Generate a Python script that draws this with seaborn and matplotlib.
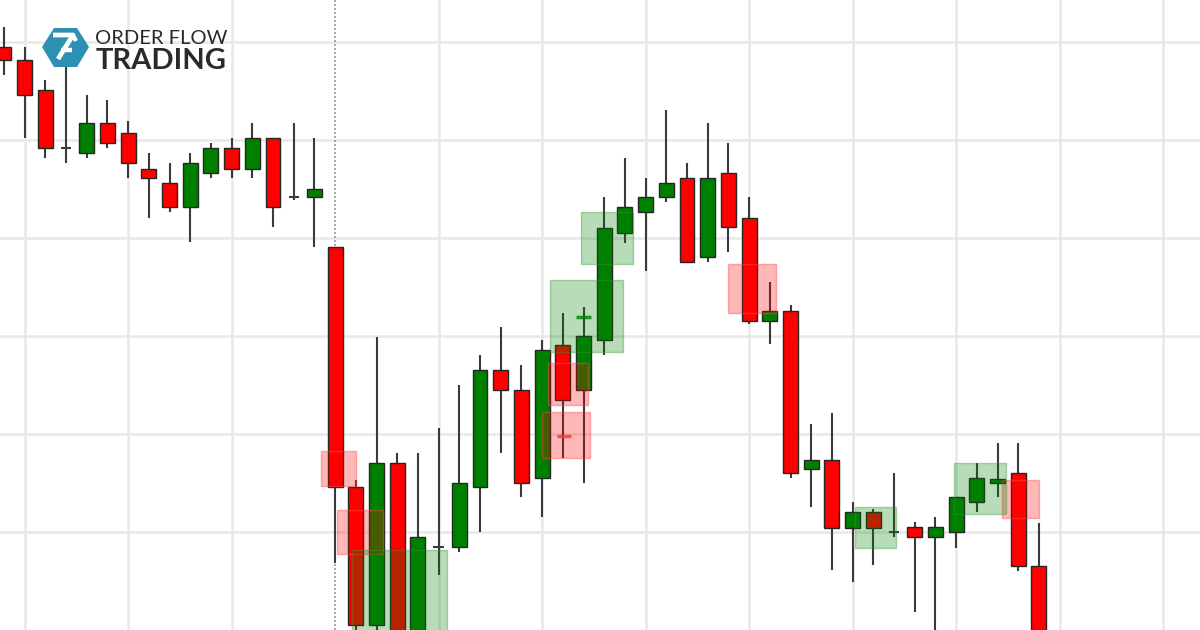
import numpy as np
import pandas as pd
import matplotlib
matplotlib.use("Agg")
import matplotlib.pyplot as plt
from matplotlib.patches import Rectangle, Polygon
import seaborn as sns

# --- candle data (price units, one grid step = 10) ---
opens = [59.5, 58.2, 55.1, 49.2, 48.7, 51.7, 50.7, 47.1, 45.6, 43.2,
         46.6, 49.2, 47.1, 50.2, 44.2, 44.2, 39.1, 14.6, 0.5, 17.0,
         -3.0, 8.5, 8.5, 14.6, 26.5, 24.5, 15.5, 29.1, 24.5, 29.6,
         40.5, 42.7, 44.2, 46.1, 38.1, 46.6, 42.1, 31.5, 32.6, 16.4,
         17.4, 10.4, 12.0, 10.0, 10.5, 9.5, 10.0, 13.1, 15.0, 16.0, 6.5]
highs = [61.5, 59.5, 56.1, 57.7, 54.6, 54.1, 52.0, 48.7, 47.7, 48.7,
         49.7, 50.2, 51.7, 50.2, 51.7, 50.2, 39.1, 15.3, 29.9, 18.1,
         18.1, 20.6, 25.0, 28.1, 30.9, 27.0, 29.6, 32.4, 33.0, 44.2,
         48.2, 46.1, 53.1, 47.7, 51.7, 49.7, 44.2, 35.5, 33.2, 21.0,
         22.1, 13.1, 12.4, 16.0, 11.0, 11.5, 13.6, 17.0, 19.1, 19.1, 10.9]
lows = [56.6, 50.2, 48.2, 47.7, 48.2, 49.2, 46.1, 42.1, 42.7, 39.6,
        46.1, 46.1, 46.1, 41.1, 43.9, 39.1, 6.8, -3.0, -1.0, -5.0,
        -5.0, 5.6, 8.0, 10.0, 18.1, 13.6, 11.5, 17.6, 15.0, 28.1,
        39.5, 36.6, 43.7, 37.5, 37.6, 38.6, 31.2, 29.2, 15.5, 12.6,
        6.1, 4.9, 6.6, 9.5, 1.8, -2.0, 8.4, 12.0, 13.6, 6.0, -5.0]
closes = [58.2, 54.6, 49.2, 49.2, 51.7, 49.7, 47.7, 46.1, 43.2, 47.7,
          49.2, 47.1, 50.2, 43.2, 44.2, 45.0, 14.6, 0.5, 17.0, -3.0,
          9.5, 8.5, 15.0, 26.5, 24.5, 15.0, 28.6, 23.5, 30.0, 41.0,
          43.2, 44.2, 45.6, 37.6, 46.1, 41.1, 31.5, 32.6, 16.0, 17.4,
          10.4, 12.0, 10.4, 10.0, 9.5, 10.5, 13.6, 15.5, 15.4, 6.5, -3.0]

# --- highlighted zones (candle index / price) ---
zone_x0 = [15.3, 16.1, 26.3, 26.0, 35.0, 48.2, 16.8, 26.4, 27.9, 41.1, 45.9]
zone_x1 = [17.0, 18.3, 28.2, 28.3, 37.3, 50.0, 21.4, 29.9, 30.4, 43.1, 48.4]
zone_lo = [14.7, 7.8, 23.0, 17.6, 32.4, 11.4, -1.0, 28.4, 37.4, 8.4, 11.8]
zone_hi = [18.3, 12.2, 27.3, 22.2, 37.4, 15.3, 8.2, 35.7, 42.7, 12.6, 17.0]
zone_side = ['sell', 'sell', 'sell', 'sell', 'sell', 'sell',
             'buy', 'buy', 'buy', 'buy', 'buy']

# short level marks inside zones
mark_x = [28.0, 27.05]
mark_y = [31.9, 19.8]
mark_side = ['buy', 'sell']

session_idx = 16

df = pd.DataFrame({'open': opens, 'high': highs, 'low': lows, 'close': closes})
df['idx'] = np.arange(len(df))
df['up'] = df['close'] >= df['open']
df['doji'] = (df['close'] - df['open']).abs() < 0.05

sns.set_theme(style="white")
plt.rcParams['font.family'] = ['Lato', 'DejaVu Sans']

RED = '#ff0000'
GREEN = '#008000'

fig = plt.figure(figsize=(12, 6.3), dpi=100)
ax = fig.add_axes([0, 0, 1, 1])
ax.set_xlim(-0.19, 57.78)
ax.set_ylim(0, 64.3)

# grid
ax.set_xticks([i for i in range(1, 58, 5) if i != session_idx])
ax.set_yticks(range(10, 61, 10))
ax.grid(True, color='#e8e8e8', lw=1.8, zorder=0)
ax.tick_params(length=0, labelbottom=False, labelleft=False)
sns.despine(ax=ax, left=True, bottom=True, right=True, top=True)
ax.axvline(session_idx, color='#999999', lw=1.2, ls=(0, (1.2, 1.2)), zorder=1)

# wicks
ax.vlines(df['idx'], df['low'], df['high'], color='#3a3a3a', lw=1.5, zorder=2)

# bodies
body = df[~df['doji']]
ax.bar(body['idx'], (body['close'] - body['open']).abs(),
       bottom=body[['open', 'close']].min(axis=1), width=0.72,
       color=np.where(body['up'], GREEN, RED), edgecolor='#262626',
       linewidth=1.0, zorder=3)
doji = df[df['doji']]
ax.hlines(doji['open'], doji['idx'] - 0.25, doji['idx'] + 0.25,
          color='#3a3a3a', lw=1.5, zorder=3)

# zones
for x0, x1, lo, hi, side in zip(zone_x0, zone_x1, zone_lo, zone_hi, zone_side):
    if side == 'sell':
        fc, ec = (1, 0, 0, 0.28), (1, 0.3, 0.3, 0.45)
    else:
        fc, ec = (0, 0.5, 0, 0.28), (0.2, 0.6, 0.2, 0.4)
    ax.add_patch(Rectangle((x0, lo), x1 - x0, hi - lo, facecolor=fc,
                           edgecolor=ec, lw=1.0, zorder=4))
for mx, my, side in zip(mark_x, mark_y, mark_side):
    c = GREEN if side == 'buy' else '#ff3030'
    ax.hlines(my, mx - 0.35, mx + 0.35, color=c, lw=2.5, alpha=0.8, zorder=5)

# logo in pixel coordinates
lg = fig.add_axes([0, 0, 1, 1], zorder=10)
lg.set_xlim(0, 1200)
lg.set_ylim(630, 0)
lg.axis('off')
lg.patch.set_alpha(0)
lg.add_patch(Polygon([(42, 47), (54, 28), (77, 28), (89, 47), (77, 67), (54, 67)],
                     closed=True, facecolor='#2d8fb2', edgecolor='none'))
lg.plot([53, 73, 58], [35, 35, 59], color='white', lw=3.4, solid_capstyle='butt')
lg.plot([73, 76], [35, 41], color='white', lw=3.0, solid_capstyle='butt')
lg.plot([61, 72], [50, 50], color='white', lw=3.2, solid_capstyle='butt')
lg.text(95, 43.5, 'ORDER FLOW', fontsize=14.5, fontweight='normal',
        color='#2a2a2a', va='baseline', ha='left')
lg.text(96, 69, 'TRADING', fontsize=21, fontweight='bold',
        color='#2a2a2a', va='baseline', ha='left')

fig.savefig('out.png', dpi=100)
